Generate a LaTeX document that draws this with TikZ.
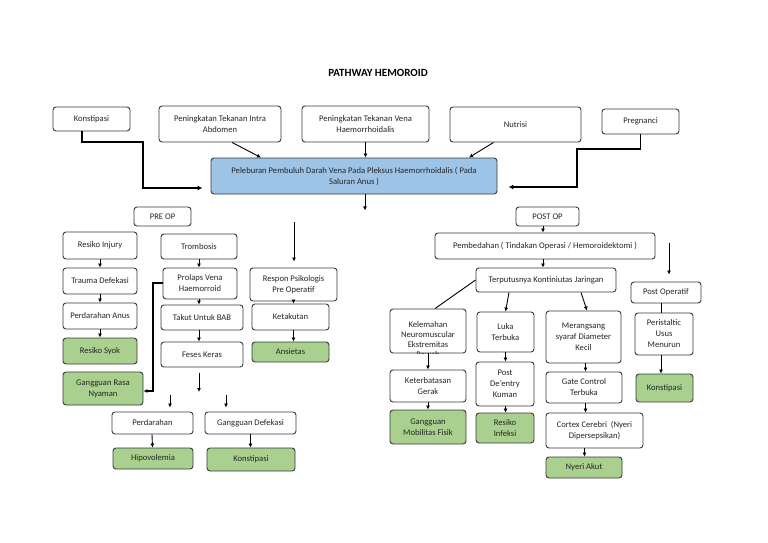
\documentclass[tikz,border=0pt]{standalone}
\usepackage{fontspec}
\setmainfont{Carlito}
\usetikzlibrary{arrows.meta}
\definecolor{bluebox}{HTML}{9DC3E6}
\definecolor{greenbox}{HTML}{A9D08E}
\definecolor{edge}{HTML}{3A3A3A}
\tikzset{
  box/.style={draw=edge, line width=0.9pt, rounded corners=3pt, fill=white, inner sep=0pt, align=center,
    font=\fontsize{8.6}{11}\selectfont, text=black!85},
  gbox/.style={box, fill=greenbox},
  bbox/.style={box, fill=bluebox},
  arr/.style={-{Latex[length=4pt,width=4pt]}, line width=0.9pt},
  ln/.style={line width=0.9pt},
  thk/.style={line width=1.6pt},
}
\newcommand\bx[7]{\node[#6, minimum width={#4pt-#2pt}, minimum height={#5pt-#3pt}] (#1) at ({(#2+#4)/2},{-(#3+#5)/2}) {#7};}
\begin{document}
\begin{tikzpicture}[x=1pt,y=1pt]
\useasboundingbox (0,0) rectangle (768,-543);
\node[font=\fontsize{11}{13}\selectfont\bfseries] (title) at (378,-73) {PATHWAY HEMOROID};
% top row
\bx{k1}{53}{107}{130}{131}{box}{Konstipasi}
\bx{pia}{159}{106}{281}{142}{box}{Peningkatan Tekanan Intra\\Abdomen}
\bx{pvh}{302}{106}{429}{142}{box}{Peningkatan Tekanan Vena\\Haemorrhoidalis}
\bx{nut}{450}{107}{581}{142}{box}{Nutrisi}
\bx{preg}{602}{109}{679}{134}{box}{Pregnanci}
\bx{peleb}{211}{158}{497}{194}{bbox}{Peleburan Pembuluh Darah Vena Pada Pleksus Haemorrhoidalis ( Pada\\Saluran Anus )}
% pre op
\bx{preop}{134}{207}{191}{226}{box}{PRE OP}
\bx{ri}{63}{232}{137}{259}{box}{Resiko Injury}
\bx{td}{63}{268}{137}{294}{box}{Trauma Defekasi}
\bx{pa}{63}{303}{137}{329}{box}{Perdarahan Anus}
\bx{rs}{63}{338}{137}{364}{gbox}{Resiko Syok}
\bx{grn}{63}{372}{143}{405}{gbox}{Gangguan Rasa\\Nyaman}
\bx{tromb}{161}{234}{237}{259}{box}{Trombosis}
\bx{prol}{163}{268}{237}{299}{box}{Prolaps Vena\\Haemorroid}
\bx{takut}{161}{305}{243}{330}{box}{Takut Untuk BAB}
\bx{feses}{161}{342}{243}{367}{box}{Feses Keras}
\bx{perd}{112}{412}{193}{434}{box}{Perdarahan}
\bx{gdef}{205}{412}{296}{434}{box}{Gangguan Defekasi}
\bx{hipo}{113}{448}{193}{469}{gbox}{Hipovolemia}
\bx{kon2}{207}{448}{295}{471}{gbox}{Konstipasi}
\bx{resp}{250}{268}{337}{301}{box}{Respon Psikologis\\Pre Operatif}
\bx{ket}{252}{304}{329}{330}{box}{Ketakutan}
\bx{ans}{252}{342}{329}{362}{gbox}{Ansietas}
% post op
\bx{postop}{516}{207}{579}{226}{box}{POST OP}
\bx{pemb}{435}{233}{655}{259}{box}{Pembedahan ( Tindakan Operasi / Hemoroidektomi )}
\bx{terp}{476}{268}{616}{292}{box}{Terputusnya Kontiniutas Jaringan}
\bx{postopf}{631}{282}{701}{303}{box}{Post Operatif}
\bx{peri}{635}{313}{693}{355}{box}{Peristaltic\\Usus\\Menurun}
\bx{kel}{390}{309}{466}{353}{box}{}
\begin{scope}
\clip[rounded corners=3pt] (kel.south west) rectangle (kel.north east);
\node[align=center, inner sep=0pt, font=\fontsize{8.6}{10}\selectfont, text=black!85] (keltext) at ([yshift=-9pt]kel.center) {Kelemahan\\Neuromuscular\\Ekstremitas\\Bawah};
\end{scope}
\bx{luka}{477}{312}{534}{352}{box}{Luka\\Terbuka}
\bx{mer}{546}{311}{621}{363}{box}{Merangsang\\syaraf Diameter\\Kecil}
\bx{kg}{390}{370}{466}{402}{box}{Keterbatasan\\Gerak}
\bx{gmf}{390}{410}{466}{444}{gbox}{Gangguan\\Mobilitas Fisik}
\bx{pdk}{476}{362}{534}{406}{box}{Post\\De'entry\\Kuman}
\bx{rin}{476}{413}{534}{443}{gbox}{Resiko\\Infeksi}
\bx{gct}{546}{372}{622}{403}{box}{Gate Control\\Terbuka}
\bx{cc}{546}{413}{643}{448}{box}{Cortex Cerebri~~(Nyeri\\Dipersepsikan)}
\bx{na}{546}{457}{622}{478}{gbox}{Nyeri Akut}
\bx{kon3}{636}{374}{693}{402}{gbox}{Konstipasi}
% coordinates for free ends
\coordinate (kc1) at (143,-142);
\coordinate (kc2) at (143,-188);
\coordinate (pc1) at (577,-149);
\coordinate (pc2) at (577,-187);
\coordinate (fz) at (199,-373);
\coordinate (fa1) at (170,-395);
\coordinate (fa2) at (226,-395);
\coordinate (rtop) at (294,-222);
\coordinate (rtop2) at (669,-243);
\coordinate (pr1) at (153,-283);
% top connectors
\draw[thk, -{Latex[length=5pt,width=5pt]}] ([xshift=-9.5pt]k1.south) |- (kc1) -- (kc2) -- ([xshift=-8pt]peleb.west |- kc2);
\draw[thk, -{Latex[length=5pt,width=5pt]}] (preg.south) |- (pc1) -- (pc2) -- ([xshift=11pt]peleb.east |- pc2);
\draw[arr] ([xshift=12pt]pia.south) -- ([xshift=-93pt]peleb.north);
\draw[arr] (pvh.south) -- (pvh.south |- peleb.north);
\draw[arr] ([xshift=-22pt]nut.south) -- ([xshift=115pt]peleb.north);
\draw[arr] ([xshift=11pt]peleb.south) -- ++(0,-16);
% pre op connectors
\draw[arr] (ri.south) -- (td.north);
\draw[arr] (td.south) -- (pa.north);
\draw[arr] (pa.south) -- (rs.north);
\draw[arr] (tromb.south) -- (tromb.south |- prol.north);
\draw[arr] (tromb.south |- prol.south) -- (tromb.south |- takut.north);
\draw[arr] (tromb.south |- takut.south) -- (tromb.south |- feses.north);
\draw[thk, -{Latex[length=4pt,width=4pt]}] (prol.west |- pr1) -- (pr1) |- ([yshift=-2.5pt]grn.east);
\draw[arr] (fz) -- ++(0,-19);
\draw[arr] (fa1) -- ([yshift=4pt]perd.north -| fa1);
\draw[arr] (fa2) -- ([yshift=4pt]gdef.north -| fa2);
\draw[arr] ([xshift=-0.5pt]perd.south) -- ([xshift=-0.5pt]hipo.north);
\draw[arr] (gdef.south) -- (gdef.south |- kon2.north);
\draw[arr] (rtop) -- ([yshift=6pt]resp.north -| rtop);
\draw[arr] (resp.south) -- (resp.south |- ket.north);
\draw[arr] (resp.south |- ket.south) -- (resp.south |- ans.north);
% post op connectors
\draw[arr] ([xshift=-4.5pt]postop.south) -- ([xshift=-4.5pt]postop.south |- pemb.north);
\draw[arr] ([xshift=-4.5pt]postop.south |- pemb.south) -- ([xshift=-4.5pt]postop.south |- terp.north);
\draw[ln] (terp.west) -- ([xshift=7pt]kel.north);
\draw[arr] ([xshift=-37pt]terp.south) -- (luka.north);
\draw[arr] ([xshift=35pt]terp.south) -- ([xshift=3.5pt]mer.north);
\draw[arr] (rtop2) -- ([yshift=7pt]postopf.north -| rtop2);
\draw[ln] ([xshift=-5pt]postopf.south) -- ([xshift=-5pt]postopf.south |- peri.north);
\draw[arr] ([xshift=-5pt]postopf.south |- peri.south) -- ([xshift=-5pt]postopf.south |- kon3.north);
\draw[arr] (kel.south) -- (kg.north);
\draw[arr] (kg.south) -- (gmf.north);
\draw[arr] (luka.south) -- (luka.south |- pdk.north);
\draw[arr] (luka.south |- pdk.south) -- (luka.south |- rin.north);
\draw[arr] ([xshift=2pt]mer.south) -- ([xshift=2pt]mer.south |- gct.north);
\draw[arr] ([xshift=2pt]mer.south |- gct.south) -- ([xshift=2pt]mer.south |- cc.north);
\draw[arr] ([xshift=1pt]mer.south |- cc.south) -- ([xshift=1pt]mer.south |- na.north);
\end{tikzpicture}
\end{document}
